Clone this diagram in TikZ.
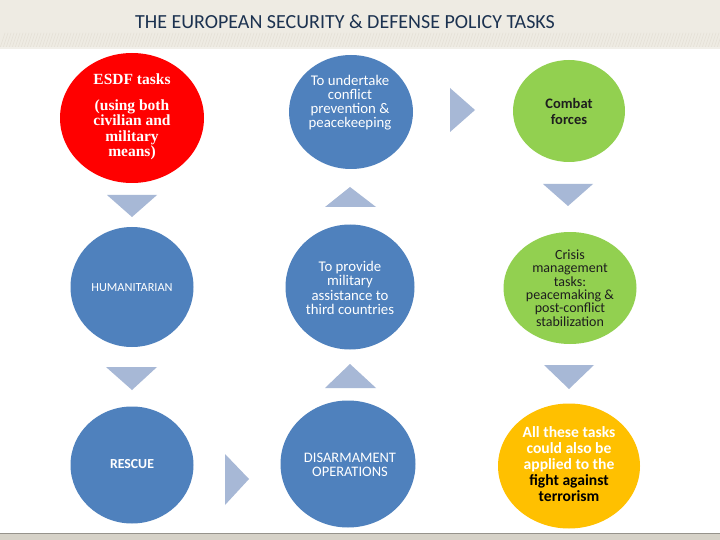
\documentclass[tikz,border=0pt]{standalone}
\usepackage{fontspec}
\setmainfont{Carlito}
\newfontfamily\serifcirc{Liberation Serif}
\usetikzlibrary{shapes.geometric}
\definecolor{bandcol}{RGB}{238,235,227}
\definecolor{bandline}{RGB}{228,224,214}
\definecolor{bottomcol}{RGB}{214,210,200}
\definecolor{titlecol}{RGB}{28,50,80}
\definecolor{esdfred}{RGB}{255,0,0}
\definecolor{bluec}{RGB}{79,129,189}
\definecolor{greenc}{RGB}{146,208,80}
\definecolor{yellowc}{RGB}{255,192,0}
\definecolor{arrowc}{RGB}{167,184,214}
\definecolor{darktxt}{RGB}{30,30,30}
\tikzset{
  circ/.style={ellipse, inner sep=0pt, draw=none},
  txt/.style={align=center, inner sep=0pt, font=\fontsize{14.8}{14}\selectfont, text=white},
  tri/.style={fill=arrowc}
}
\begin{document}
\begin{tikzpicture}[x=1pt,y=-1pt]
\useasboundingbox (0,0) rectangle (720,540);
\fill[white] (0,0) rectangle (720,540);
% header band
\fill[bandcol] (0,0) rectangle (720,48);
\foreach \i in {0,3,...,726} \draw[bandline, line width=0.6pt] (\i,48) -- (\i+5,33);
\fill[bandcol!80!white] (0,47) rectangle (720,49);
% bottom band
\fill[bottomcol] (0,533) rectangle (720,540);
\draw[bottomcol!70!black, line width=0.5pt] (0,533) -- (720,533);
% title
\node[font=\fontsize{20}{22}\selectfont, text=titlecol, inner sep=0pt] (title) at (345,22) {THE EUROPEAN SECURITY \& DEFENSE POLICY TASKS};

% circles
\node[circ, fill=esdfred, minimum width=144pt, minimum height=130pt] (c1) at (132,118) {};
\node[circ, fill=bluec, minimum width=124pt, minimum height=114pt] (c2) at (351,112) {};
\node[circ, fill=greenc, minimum width=112pt, minimum height=102pt] (c3) at (569,111) {};
\node[circ, fill=bluec, minimum width=123pt, minimum height=120pt] (c4) at (132,287) {};
\node[circ, fill=bluec, minimum width=129pt, minimum height=125pt] (c5) at (350,287) {};
\node[circ, fill=greenc, minimum width=133pt, minimum height=112pt] (c6) at (570,288) {};
\node[circ, fill=bluec, minimum width=123pt, minimum height=117pt] (c7) at (132,465) {};
\node[circ, fill=bluec, minimum width=135pt, minimum height=127pt] (c8) at (348,464) {};
\node[circ, fill=yellowc, minimum width=142pt, minimum height=125pt] (c9) at (569,466) {};

% texts
\node[txt, font=\serifcirc\bfseries\fontsize{15.5}{16}\selectfont] (t1a) at (132,79) {ESDF tasks};
\node[txt, font=\serifcirc\bfseries\fontsize{15.5}{15.5}\selectfont] (t1b) at (132,130) {(using both\\civilian and\\military\\means)};
\node[txt] (t2) at (350,103) {To undertake\\conflict\\prevention \&\\peacekeeping};
\node[txt, font=\bfseries\fontsize{14.5}{16}\selectfont, text=darktxt] (t3) at (569,111) {Combat\\forces};
\node[txt, font=\fontsize{12.3}{13}\selectfont] (t4) at (132,288) {HUMANITARIAN};
\node[txt, font=\fontsize{14.8}{14.3}\selectfont] (t5) at (350,288) {To provide\\military\\assistance to\\third countries};
\node[txt, font=\fontsize{14}{13.4}\selectfont, text=darktxt] (t6) at (570,288) {Crisis\\management\\tasks:\\peacemaking \&\\post-conflict\\stabilization};
\node[txt, font=\bfseries\fontsize{13.8}{14}\selectfont] (t7) at (132,464) {RESCUE};
\node[txt, font=\fontsize{14.5}{13.5}\selectfont] (t8) at (350,465) {DISARMAMENT\\OPERATIONS};
\node[txt, font=\bfseries\fontsize{15.6}{16.2}\selectfont] (t9) at (569,464) {All these tasks\\could also be\\applied to the\\{\color{black}fight against}\\{\color{black}terrorism}};

% arrows (triangles)
\fill[tri] (107,195) -- (157,195) -- (132,217) -- cycle;
\fill[tri] (325,207) -- (376,207) -- (350,187) -- cycle;
\fill[tri] (450,88) -- (450,132) -- (475,110) -- cycle;
\fill[tri] (543,184) -- (593,184) -- (568,206) -- cycle;
\fill[tri] (106,367) -- (157,367) -- (132,390) -- cycle;
\fill[tri] (325,388) -- (376,388) -- (350,364) -- cycle;
\fill[tri] (544,365) -- (594,365) -- (569,389) -- cycle;
\fill[tri] (225,454) -- (225,505) -- (249,479) -- cycle;
\end{tikzpicture}
\end{document}
